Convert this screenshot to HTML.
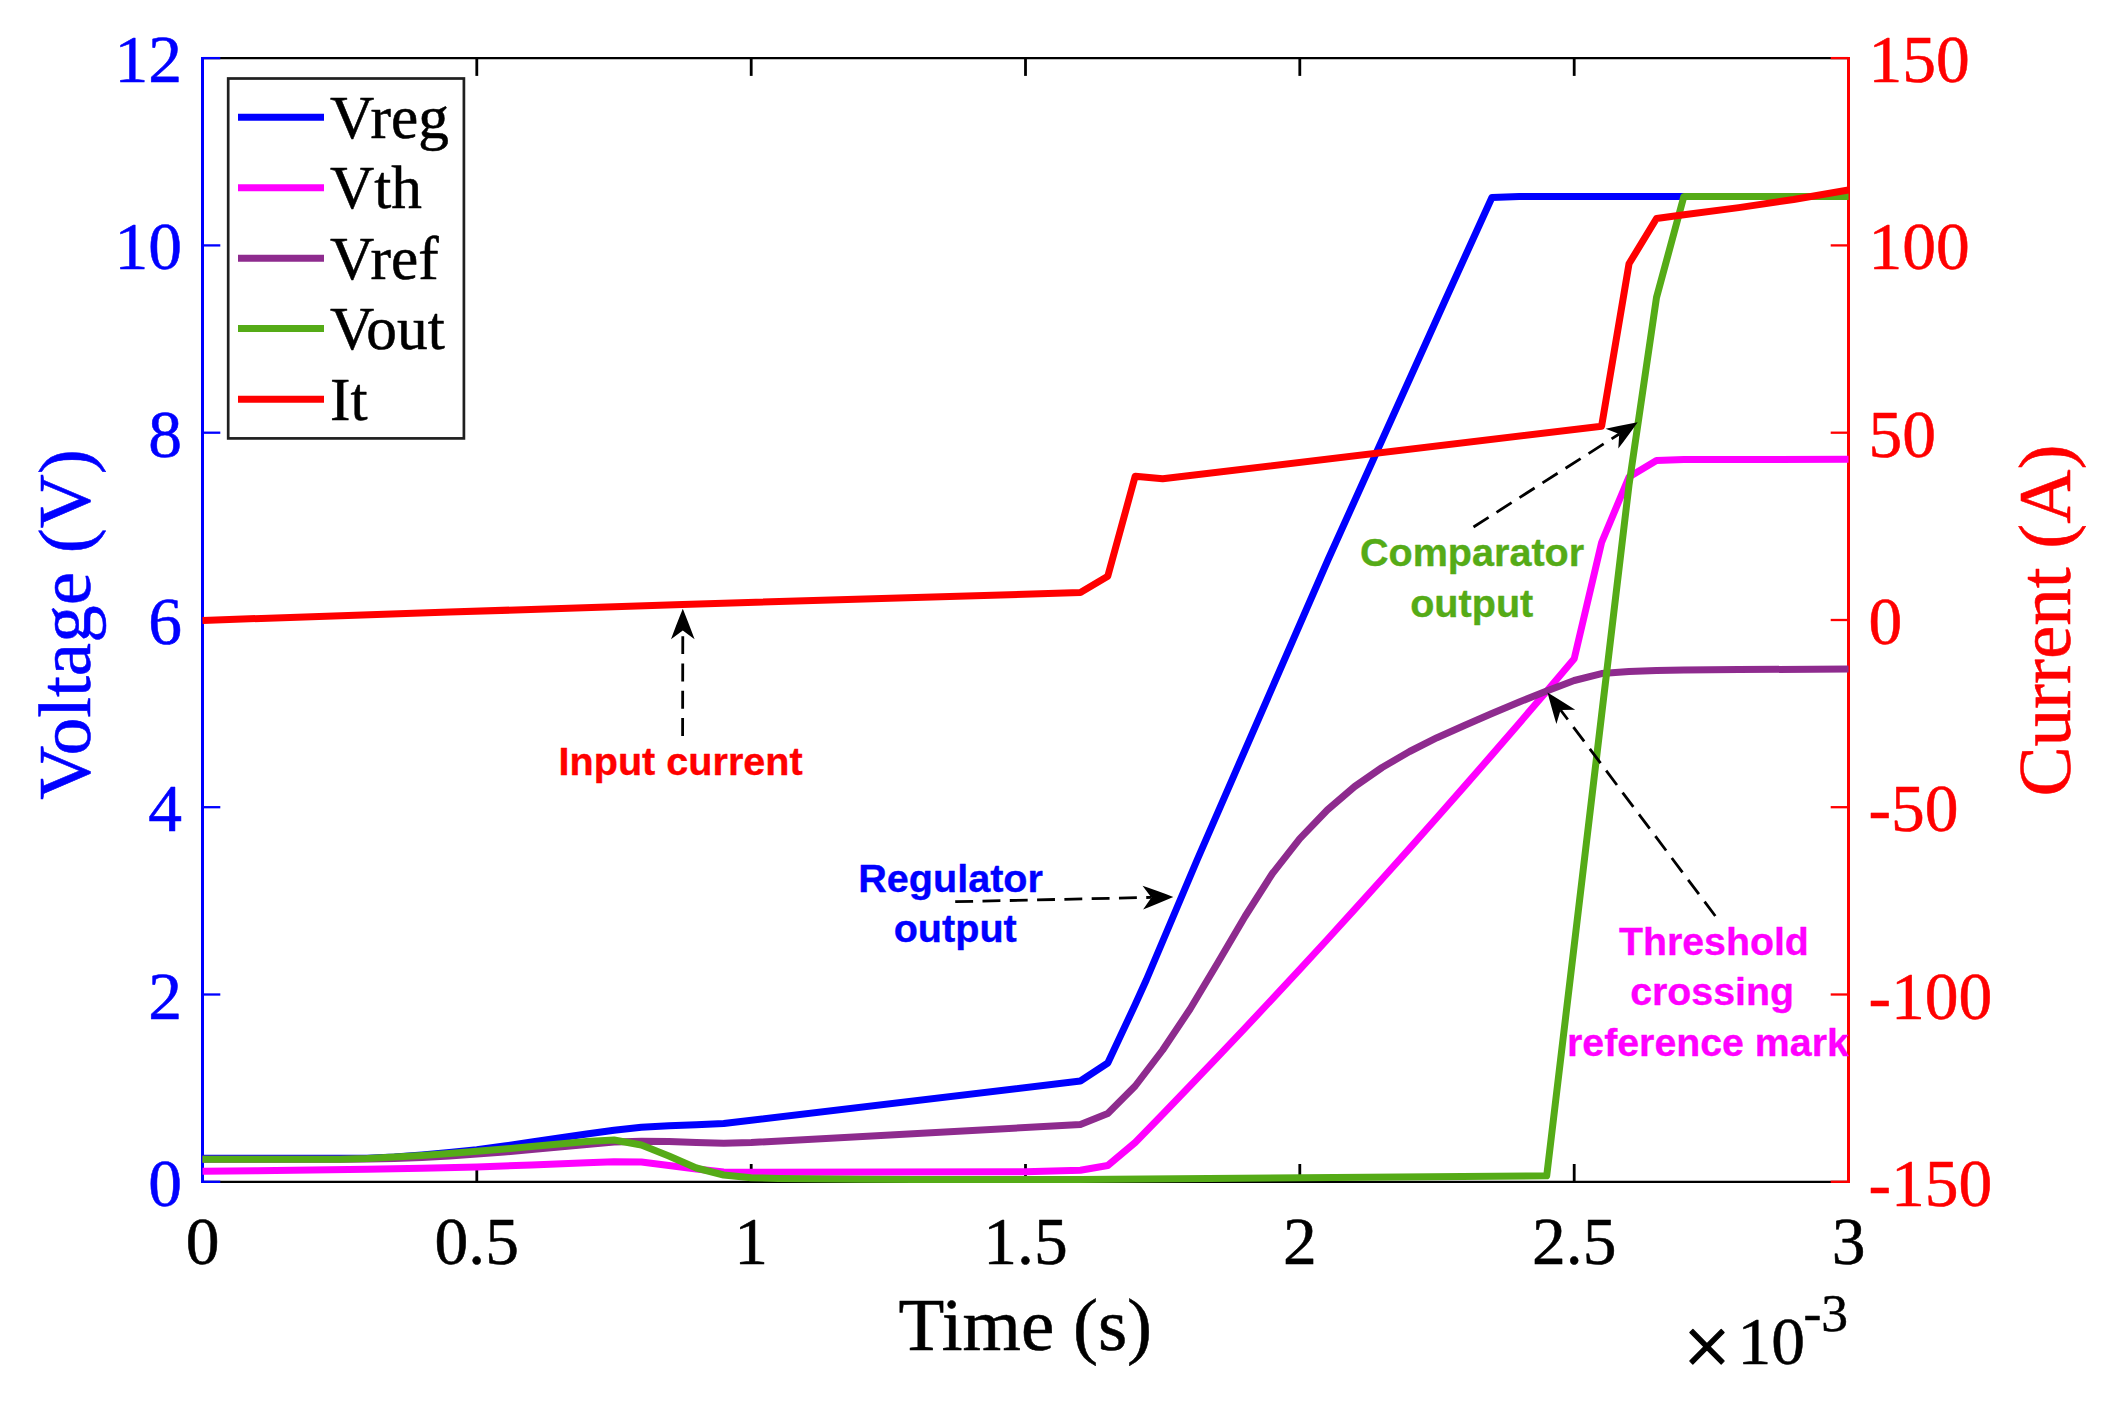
<!DOCTYPE html>
<html><head><meta charset="utf-8"><title>Voltage and current vs time</title>
<style>html,body{margin:0;padding:0;background:#fff}svg{display:block}.s{font-family:"Liberation Serif","Times New Roman",serif}.b{font-family:"Liberation Sans",Arial,sans-serif;font-weight:bold;font-size:39.6px}text{stroke-linejoin:round}.s{stroke-width:0.55px}.b{stroke-width:0.35px}.tk{font-size:67.5px}.lg{font-size:61.3px}.al{font-size:75px}</style></head><body>
<svg width="2118" height="1403" viewBox="0 0 2118 1403">
<rect width="2118" height="1403" fill="#fff"/>
<defs><clipPath id="c"><rect x="202.0" y="57.0" width="1646.9" height="1125.9"/></clipPath></defs>
<g stroke="#000" stroke-width="2.3" fill="none">
<line x1="202.5" y1="58.1" x2="1848.5" y2="58.1"/>
<line x1="202.5" y1="1181.8" x2="1848.5" y2="1181.8"/>
<line x1="202.5" y1="1181.8" x2="202.5" y2="1164.0" stroke-width="2.8"/>
<line x1="202.5" y1="58.1" x2="202.5" y2="75.9" stroke-width="2.8"/>
<line x1="476.8" y1="1181.8" x2="476.8" y2="1164.0" stroke-width="2.8"/>
<line x1="476.8" y1="58.1" x2="476.8" y2="75.9" stroke-width="2.8"/>
<line x1="751.2" y1="1181.8" x2="751.2" y2="1164.0" stroke-width="2.8"/>
<line x1="751.2" y1="58.1" x2="751.2" y2="75.9" stroke-width="2.8"/>
<line x1="1025.5" y1="1181.8" x2="1025.5" y2="1164.0" stroke-width="2.8"/>
<line x1="1025.5" y1="58.1" x2="1025.5" y2="75.9" stroke-width="2.8"/>
<line x1="1299.8" y1="1181.8" x2="1299.8" y2="1164.0" stroke-width="2.8"/>
<line x1="1299.8" y1="58.1" x2="1299.8" y2="75.9" stroke-width="2.8"/>
<line x1="1574.2" y1="1181.8" x2="1574.2" y2="1164.0" stroke-width="2.8"/>
<line x1="1574.2" y1="58.1" x2="1574.2" y2="75.9" stroke-width="2.8"/>
<line x1="1848.5" y1="1181.8" x2="1848.5" y2="1164.0" stroke-width="2.8"/>
<line x1="1848.5" y1="58.1" x2="1848.5" y2="75.9" stroke-width="2.8"/>
</g>
<g stroke="#0000ff" fill="none">
<line x1="202.5" y1="57.0" x2="202.5" y2="1183.0" stroke-width="3.0"/>
<line x1="202.5" y1="58.1" x2="220.3" y2="58.1" stroke-width="2.3"/>
<line x1="202.5" y1="245.4" x2="220.3" y2="245.4" stroke-width="2.3"/>
<line x1="202.5" y1="432.7" x2="220.3" y2="432.7" stroke-width="2.3"/>
<line x1="202.5" y1="620.0" x2="220.3" y2="620.0" stroke-width="2.3"/>
<line x1="202.5" y1="807.2" x2="220.3" y2="807.2" stroke-width="2.3"/>
<line x1="202.5" y1="994.5" x2="220.3" y2="994.5" stroke-width="2.3"/>
<line x1="202.5" y1="1181.8" x2="220.3" y2="1181.8" stroke-width="2.3"/>
</g>
<g stroke="#ff0000" fill="none">
<line x1="1848.5" y1="57.0" x2="1848.5" y2="1183.0" stroke-width="3.0"/>
<line x1="1848.5" y1="58.1" x2="1830.7" y2="58.1" stroke-width="2.3"/>
<line x1="1848.5" y1="245.4" x2="1830.7" y2="245.4" stroke-width="2.3"/>
<line x1="1848.5" y1="432.7" x2="1830.7" y2="432.7" stroke-width="2.3"/>
<line x1="1848.5" y1="620.0" x2="1830.7" y2="620.0" stroke-width="2.3"/>
<line x1="1848.5" y1="807.2" x2="1830.7" y2="807.2" stroke-width="2.3"/>
<line x1="1848.5" y1="994.5" x2="1830.7" y2="994.5" stroke-width="2.3"/>
<line x1="1848.5" y1="1181.8" x2="1830.7" y2="1181.8" stroke-width="2.3"/>
</g>
<g clip-path="url(#c)" fill="none" stroke-width="7.0" stroke-linejoin="round">
<polyline stroke="#0000ff" points="202.5,1158.2 367.1,1158.2 394.5,1157.0 422.0,1155.0 449.4,1152.5 476.8,1149.8 504.3,1146.0 531.7,1142.0 559.1,1138.0 586.6,1134.0 614.0,1130.3 641.4,1127.3 668.9,1125.8 696.3,1124.8 723.7,1123.6 1080.4,1081.0 1107.8,1063.0 1135.2,1004.5 1146.3,980.0 1197.1,860.0 1327.9,560.0 1445.3,300.0 1491.9,197.5 1519.3,196.4 1694.9,196.4"/>
<polyline stroke="#ff00ff" points="202.5,1171.2 257.4,1170.8 312.2,1170.0 367.1,1169.2 422.0,1168.2 476.8,1167.0 531.7,1165.0 586.6,1162.8 614.0,1161.8 641.4,1162.0 668.9,1165.5 696.3,1169.0 723.7,1172.0 751.2,1172.3 1025.5,1171.8 1080.4,1170.3 1107.8,1165.5 1135.2,1142.5 1162.7,1114.3 1190.1,1085.8 1217.5,1057.1 1245.0,1028.1 1272.4,998.8 1299.8,969.3 1327.3,939.5 1354.7,909.4 1382.1,879.0 1409.6,848.4 1437.0,817.5 1464.4,786.4 1491.9,754.9 1519.3,723.2 1546.7,691.2 1574.2,658.8 1601.6,542.5 1629.0,477.0 1656.5,460.5 1683.9,459.6 1848.5,459.3"/>
<polyline stroke="#8e2b8e" points="202.5,1159.2 339.7,1159.2 367.1,1159.0 394.5,1158.5 422.0,1157.5 449.4,1156.0 476.8,1154.0 504.3,1152.0 531.7,1149.5 559.1,1147.0 586.6,1144.5 614.0,1142.0 641.4,1141.2 668.9,1141.5 696.3,1142.5 723.7,1143.2 751.2,1142.5 1080.4,1124.5 1107.8,1113.5 1135.2,1086.0 1162.7,1050.0 1190.1,1009.0 1217.5,963.3 1245.0,916.5 1272.4,873.5 1299.8,838.6 1327.3,810.0 1354.7,786.5 1382.1,767.5 1409.6,751.5 1437.0,737.7 1464.4,725.5 1491.9,713.5 1519.3,702.0 1546.7,691.0 1574.2,680.5 1601.6,673.6 1629.0,671.4 1656.5,670.4 1683.9,670.0 1738.8,669.6 1848.5,669.0"/>
<polyline stroke="#55ab17" points="202.5,1159.2 339.7,1159.2 367.1,1158.5 394.5,1157.0 422.0,1155.5 449.4,1153.5 476.8,1151.2 504.3,1149.0 531.7,1146.5 559.1,1144.0 586.6,1141.5 614.0,1140.0 641.4,1145.0 668.9,1156.0 696.3,1168.0 723.7,1175.0 751.2,1177.8 778.6,1178.4 806.0,1178.8 860.9,1179.2 915.8,1179.5 1080.4,1179.5 1546.7,1175.8 1574.2,945.5 1601.6,715.0 1629.0,485.0 1656.5,297.5 1683.9,196.4 1848.5,196.4"/>
<polyline stroke="#ff0000" points="202.5,620.4 449.4,612.1 682.6,604.5 1080.4,592.5 1107.8,576.2 1135.2,476.2 1162.7,478.8 1601.6,426.2 1629.0,263.8 1656.5,218.5 1683.9,214.7 1738.8,207.6 1793.6,199.5 1848.5,190.0"/>
</g>
<g class="s tk" fill="#0000ff" stroke="#0000ff" text-anchor="end">
<text x="182" y="82.1">12</text>
<text x="182" y="269.4">10</text>
<text x="182" y="456.7">8</text>
<text x="182" y="644.0">6</text>
<text x="182" y="831.2">4</text>
<text x="182" y="1018.5">2</text>
<text x="182" y="1205.8">0</text>
</g>
<g class="s tk" fill="#ff0000" stroke="#ff0000">
<text x="1868.6" y="82.1">150</text>
<text x="1868.6" y="269.4">100</text>
<text x="1868.6" y="456.7">50</text>
<text x="1868.6" y="644.0">0</text>
<text x="1868.6" y="831.2">-50</text>
<text x="1868.6" y="1018.5">-100</text>
<text x="1868.6" y="1205.8">-150</text>
</g>
<g class="s tk" fill="#000" stroke="#000" text-anchor="middle">
<text x="202.5" y="1264.4">0</text>
<text x="476.8" y="1264.4">0.5</text>
<text x="751.2" y="1264.4">1</text>
<text x="1025.5" y="1264.4">1.5</text>
<text x="1299.8" y="1264.4">2</text>
<text x="1574.2" y="1264.4">2.5</text>
<text x="1848.5" y="1264.4">3</text>
</g>
<text class="s" fill="#000" stroke="#000" style="stroke-width:1.3px" font-size="84" x="1683.3" y="1375">×</text>
<text class="s tk" fill="#000" stroke="#000" x="1737.5" y="1364.2">10</text>
<text class="s" fill="#000" stroke="#000" font-size="53.5" x="1803.5" y="1331">-3</text>
<text class="s al" fill="#000" stroke="#000" text-anchor="middle" x="1025.3" y="1349.8">Time (s)</text>
<text class="s al" fill="#0000ff" stroke="#0000ff" text-anchor="middle" transform="translate(90,624.5) rotate(-90)">Voltage (V)</text>
<text class="s al" fill="#ff0000" stroke="#ff0000" text-anchor="middle" transform="translate(2070,620.5) rotate(-90)">Current (A)</text>
<rect x="228.2" y="78.5" width="235.7" height="359.9" fill="#fff" stroke="#1f1f1f" stroke-width="2.7"/>
<line x1="238" y1="117.3" x2="324" y2="117.3" stroke="#0000ff" stroke-width="7.0"/>
<text class="s lg" fill="#000" stroke="#000" x="330" y="137.5">Vreg</text>
<line x1="238" y1="187.8" x2="324" y2="187.8" stroke="#ff00ff" stroke-width="7.0"/>
<text class="s lg" fill="#000" stroke="#000" x="330" y="208.0">Vth</text>
<line x1="238" y1="258.3" x2="324" y2="258.3" stroke="#8e2b8e" stroke-width="7.0"/>
<text class="s lg" fill="#000" stroke="#000" x="330" y="278.5">Vref</text>
<line x1="238" y1="328.4" x2="324" y2="328.4" stroke="#55ab17" stroke-width="7.0"/>
<text class="s lg" fill="#000" stroke="#000" x="330" y="348.6">Vout</text>
<line x1="238" y1="399.3" x2="324" y2="399.3" stroke="#ff0000" stroke-width="7.0"/>
<text class="s lg" fill="#000" stroke="#000" x="330" y="419.5">It</text>
<line x1="955.2" y1="901.7" x2="1151.4" y2="897.4" stroke="#000" stroke-width="2.8" stroke-dasharray="17.9 9.4"/><path d="M1173.3,896.9 Q1156.7,904.0 1143.1,909.4 L1151.4,897.4 L1142.5,885.8 Q1156.4,890.5 1173.3,896.9 Z" fill="#000"/>
<line x1="1473.5" y1="527.0" x2="1619.2" y2="434.0" stroke="#000" stroke-width="2.8" stroke-dasharray="17.9 9.4"/><path d="M1637.7,422.2 Q1627.2,436.9 1618.3,448.6 L1619.2,434.0 L1605.6,428.7 Q1619.9,425.6 1637.7,422.2 Z" fill="#000"/>
<line x1="1715.3" y1="916.0" x2="1560.6" y2="710.0" stroke="#000" stroke-width="2.8" stroke-dasharray="17.9 9.4"/><path d="M1547.5,692.5 Q1563.0,701.9 1575.2,709.8 L1560.6,710.0 L1556.4,724.0 Q1552.2,710.0 1547.5,692.5 Z" fill="#000"/>
<line x1="682.6" y1="736.0" x2="682.8" y2="630.6" stroke="#000" stroke-width="2.8" stroke-dasharray="17.9 9.4"/><path d="M682.8,608.7 Q689.5,625.5 694.6,639.2 L682.8,630.6 L671.0,639.2 Q676.0,625.5 682.8,608.7 Z" fill="#000"/>
<g class="b">
<text fill="#ff0000" stroke="#ff0000" x="558.6" y="775.4">Input current</text>
<text fill="#0000ff" stroke="#0000ff" x="858.2" y="891.5">Regulator</text>
<text fill="#0000ff" stroke="#0000ff" x="893.7" y="941.6">output</text>
<text fill="#55ab17" stroke="#55ab17" x="1359.9" y="566">Comparator</text>
<text fill="#55ab17" stroke="#55ab17" x="1410.2" y="617">output</text>
<text fill="#ff00ff" stroke="#ff00ff" style="font-size:39.3px" x="1618.9" y="955.3">Threshold</text>
<text fill="#ff00ff" stroke="#ff00ff" style="font-size:39.3px" x="1630.2" y="1004.9">crossing</text>
<text fill="#ff00ff" stroke="#ff00ff" style="font-size:39.3px" x="1567" y="1055.7">reference mark</text>
</g>
</svg></body></html>
